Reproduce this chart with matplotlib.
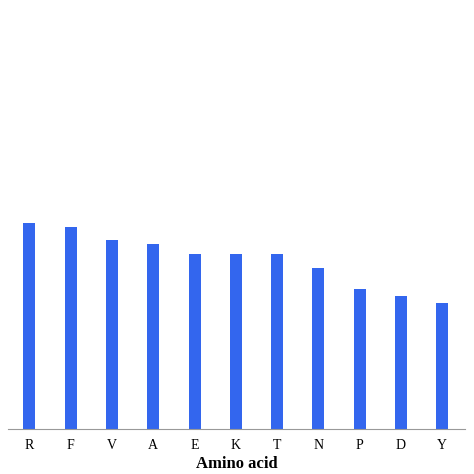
import matplotlib
matplotlib.use("Agg")
from matplotlib import pyplot as plt

amino = ["R", "F", "V", "A", "E", "K", "T", "N", "P", "D", "Y"]
values = [206, 202, 189, 185, 175, 175, 175, 161, 140, 133, 126]

fig = plt.figure(figsize=(4.74, 4.74), dpi=100)
ax = fig.add_axes([8 / 474, 45 / 474, 457 / 474, 429 / 474])
ax.bar(range(len(amino)), values, width=0.29, color="#3366ee")
ax.set_xlim(-0.52, len(amino) - 0.45)
ax.set_ylim(0, 429)
ax.set_xticks(range(len(amino)))
ax.set_xticklabels(amino, fontsize=10, family="Liberation Serif")
ax.tick_params(axis="x", length=0, pad=7)
ax.set_yticks([])
for s in ["top", "right", "left"]:
    ax.spines[s].set_visible(False)
ax.spines["bottom"].set_color("#999999")
ax.set_xlabel("Amino acid", fontsize=12, fontweight="bold", family="Liberation Serif", labelpad=3)
fig.savefig("out.png")
